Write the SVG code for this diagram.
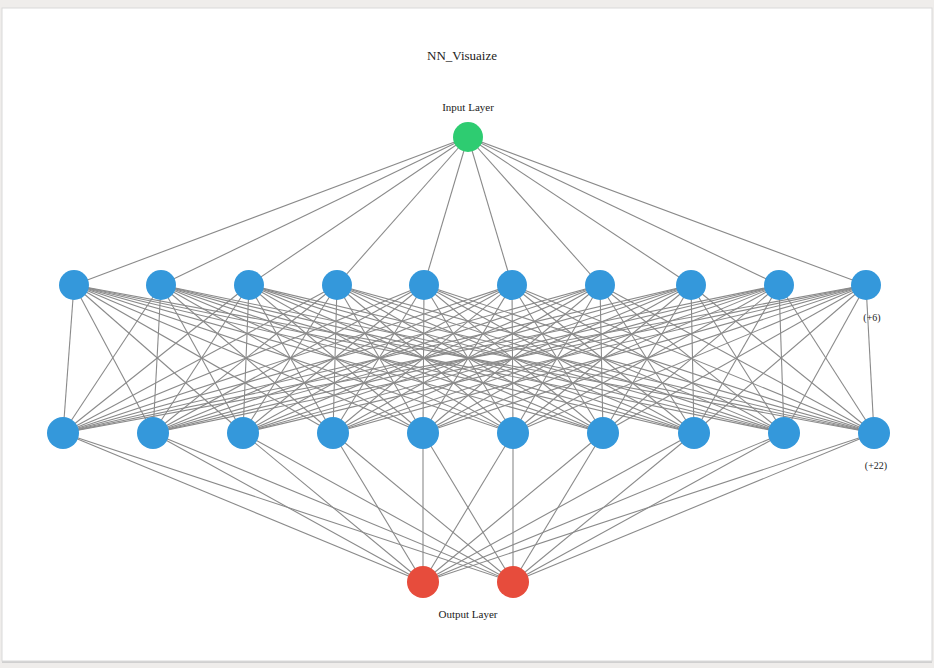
<svg xmlns="http://www.w3.org/2000/svg" width="934" height="668" viewBox="0 0 934 668">
<style>
.e{stroke:#8a8a8a;stroke-width:1.1;fill:none}
.h{fill:#3498db}
.i{fill:#2ecc71}
.o{fill:#e74c3c}
text{font-family:"Liberation Serif","Times New Roman",serif;fill:#222;text-anchor:middle}
</style>
<rect x="0" y="0" width="934" height="668" fill="#efedeb"/>
<rect x="2" y="9" width="930" height="654" fill="#d0d0d0"/>
<rect x="2" y="8" width="930" height="653" fill="#ffffff" stroke="#d9d9d9" stroke-width="1"/>
<text x="462" y="60" font-size="13">NN_Visuaize</text>
<text x="468" y="111" font-size="11">Input Layer</text>
<g id="connectors">
<line class="e" x1="468" y1="137" x2="74" y2="285"/><line class="e" x1="468" y1="137" x2="161" y2="285"/><line class="e" x1="468" y1="137" x2="249" y2="285"/><line class="e" x1="468" y1="137" x2="337" y2="285"/><line class="e" x1="468" y1="137" x2="424" y2="285"/><line class="e" x1="468" y1="137" x2="512" y2="285"/><line class="e" x1="468" y1="137" x2="600" y2="285"/><line class="e" x1="468" y1="137" x2="691" y2="285"/><line class="e" x1="468" y1="137" x2="779" y2="285"/><line class="e" x1="468" y1="137" x2="866" y2="285"/>
<line class="e" x1="74" y1="285" x2="63" y2="433"/><line class="e" x1="74" y1="285" x2="153" y2="433"/><line class="e" x1="74" y1="285" x2="243" y2="433"/><line class="e" x1="74" y1="285" x2="333" y2="433"/><line class="e" x1="74" y1="285" x2="423" y2="433"/><line class="e" x1="74" y1="285" x2="513" y2="433"/><line class="e" x1="74" y1="285" x2="603" y2="433"/><line class="e" x1="74" y1="285" x2="694" y2="433"/><line class="e" x1="74" y1="285" x2="784" y2="433"/><line class="e" x1="74" y1="285" x2="874" y2="433"/>
<line class="e" x1="161" y1="285" x2="63" y2="433"/><line class="e" x1="161" y1="285" x2="153" y2="433"/><line class="e" x1="161" y1="285" x2="243" y2="433"/><line class="e" x1="161" y1="285" x2="333" y2="433"/><line class="e" x1="161" y1="285" x2="423" y2="433"/><line class="e" x1="161" y1="285" x2="513" y2="433"/><line class="e" x1="161" y1="285" x2="603" y2="433"/><line class="e" x1="161" y1="285" x2="694" y2="433"/><line class="e" x1="161" y1="285" x2="784" y2="433"/><line class="e" x1="161" y1="285" x2="874" y2="433"/>
<line class="e" x1="249" y1="285" x2="63" y2="433"/><line class="e" x1="249" y1="285" x2="153" y2="433"/><line class="e" x1="249" y1="285" x2="243" y2="433"/><line class="e" x1="249" y1="285" x2="333" y2="433"/><line class="e" x1="249" y1="285" x2="423" y2="433"/><line class="e" x1="249" y1="285" x2="513" y2="433"/><line class="e" x1="249" y1="285" x2="603" y2="433"/><line class="e" x1="249" y1="285" x2="694" y2="433"/><line class="e" x1="249" y1="285" x2="784" y2="433"/><line class="e" x1="249" y1="285" x2="874" y2="433"/>
<line class="e" x1="337" y1="285" x2="63" y2="433"/><line class="e" x1="337" y1="285" x2="153" y2="433"/><line class="e" x1="337" y1="285" x2="243" y2="433"/><line class="e" x1="337" y1="285" x2="333" y2="433"/><line class="e" x1="337" y1="285" x2="423" y2="433"/><line class="e" x1="337" y1="285" x2="513" y2="433"/><line class="e" x1="337" y1="285" x2="603" y2="433"/><line class="e" x1="337" y1="285" x2="694" y2="433"/><line class="e" x1="337" y1="285" x2="784" y2="433"/><line class="e" x1="337" y1="285" x2="874" y2="433"/>
<line class="e" x1="424" y1="285" x2="63" y2="433"/><line class="e" x1="424" y1="285" x2="153" y2="433"/><line class="e" x1="424" y1="285" x2="243" y2="433"/><line class="e" x1="424" y1="285" x2="333" y2="433"/><line class="e" x1="424" y1="285" x2="423" y2="433"/><line class="e" x1="424" y1="285" x2="513" y2="433"/><line class="e" x1="424" y1="285" x2="603" y2="433"/><line class="e" x1="424" y1="285" x2="694" y2="433"/><line class="e" x1="424" y1="285" x2="784" y2="433"/><line class="e" x1="424" y1="285" x2="874" y2="433"/>
<line class="e" x1="512" y1="285" x2="63" y2="433"/><line class="e" x1="512" y1="285" x2="153" y2="433"/><line class="e" x1="512" y1="285" x2="243" y2="433"/><line class="e" x1="512" y1="285" x2="333" y2="433"/><line class="e" x1="512" y1="285" x2="423" y2="433"/><line class="e" x1="512" y1="285" x2="513" y2="433"/><line class="e" x1="512" y1="285" x2="603" y2="433"/><line class="e" x1="512" y1="285" x2="694" y2="433"/><line class="e" x1="512" y1="285" x2="784" y2="433"/><line class="e" x1="512" y1="285" x2="874" y2="433"/>
<line class="e" x1="600" y1="285" x2="63" y2="433"/><line class="e" x1="600" y1="285" x2="153" y2="433"/><line class="e" x1="600" y1="285" x2="243" y2="433"/><line class="e" x1="600" y1="285" x2="333" y2="433"/><line class="e" x1="600" y1="285" x2="423" y2="433"/><line class="e" x1="600" y1="285" x2="513" y2="433"/><line class="e" x1="600" y1="285" x2="603" y2="433"/><line class="e" x1="600" y1="285" x2="694" y2="433"/><line class="e" x1="600" y1="285" x2="784" y2="433"/><line class="e" x1="600" y1="285" x2="874" y2="433"/>
<line class="e" x1="691" y1="285" x2="63" y2="433"/><line class="e" x1="691" y1="285" x2="153" y2="433"/><line class="e" x1="691" y1="285" x2="243" y2="433"/><line class="e" x1="691" y1="285" x2="333" y2="433"/><line class="e" x1="691" y1="285" x2="423" y2="433"/><line class="e" x1="691" y1="285" x2="513" y2="433"/><line class="e" x1="691" y1="285" x2="603" y2="433"/><line class="e" x1="691" y1="285" x2="694" y2="433"/><line class="e" x1="691" y1="285" x2="784" y2="433"/><line class="e" x1="691" y1="285" x2="874" y2="433"/>
<line class="e" x1="779" y1="285" x2="63" y2="433"/><line class="e" x1="779" y1="285" x2="153" y2="433"/><line class="e" x1="779" y1="285" x2="243" y2="433"/><line class="e" x1="779" y1="285" x2="333" y2="433"/><line class="e" x1="779" y1="285" x2="423" y2="433"/><line class="e" x1="779" y1="285" x2="513" y2="433"/><line class="e" x1="779" y1="285" x2="603" y2="433"/><line class="e" x1="779" y1="285" x2="694" y2="433"/><line class="e" x1="779" y1="285" x2="784" y2="433"/><line class="e" x1="779" y1="285" x2="874" y2="433"/>
<line class="e" x1="866" y1="285" x2="63" y2="433"/><line class="e" x1="866" y1="285" x2="153" y2="433"/><line class="e" x1="866" y1="285" x2="243" y2="433"/><line class="e" x1="866" y1="285" x2="333" y2="433"/><line class="e" x1="866" y1="285" x2="423" y2="433"/><line class="e" x1="866" y1="285" x2="513" y2="433"/><line class="e" x1="866" y1="285" x2="603" y2="433"/><line class="e" x1="866" y1="285" x2="694" y2="433"/><line class="e" x1="866" y1="285" x2="784" y2="433"/><line class="e" x1="866" y1="285" x2="874" y2="433"/>
<line class="e" x1="63" y1="433" x2="423" y2="582"/><line class="e" x1="63" y1="433" x2="513" y2="582"/><line class="e" x1="153" y1="433" x2="423" y2="582"/><line class="e" x1="153" y1="433" x2="513" y2="582"/><line class="e" x1="243" y1="433" x2="423" y2="582"/><line class="e" x1="243" y1="433" x2="513" y2="582"/><line class="e" x1="333" y1="433" x2="423" y2="582"/><line class="e" x1="333" y1="433" x2="513" y2="582"/><line class="e" x1="423" y1="433" x2="423" y2="582"/><line class="e" x1="423" y1="433" x2="513" y2="582"/><line class="e" x1="513" y1="433" x2="423" y2="582"/><line class="e" x1="513" y1="433" x2="513" y2="582"/><line class="e" x1="603" y1="433" x2="423" y2="582"/><line class="e" x1="603" y1="433" x2="513" y2="582"/><line class="e" x1="694" y1="433" x2="423" y2="582"/><line class="e" x1="694" y1="433" x2="513" y2="582"/><line class="e" x1="784" y1="433" x2="423" y2="582"/><line class="e" x1="784" y1="433" x2="513" y2="582"/><line class="e" x1="874" y1="433" x2="423" y2="582"/><line class="e" x1="874" y1="433" x2="513" y2="582"/>
</g>
<g id="input"><circle class="i" cx="468" cy="137" r="15"/></g>
<g id="h1_1"><circle class="h" cx="74" cy="285" r="15"/></g>
<g id="h1_2"><circle class="h" cx="161" cy="285" r="15"/></g>
<g id="h1_3"><circle class="h" cx="249" cy="285" r="15"/></g>
<g id="h1_4"><circle class="h" cx="337" cy="285" r="15"/></g>
<g id="h1_5"><circle class="h" cx="424" cy="285" r="15"/></g>
<g id="h1_6"><circle class="h" cx="512" cy="285" r="15"/></g>
<g id="h1_7"><circle class="h" cx="600" cy="285" r="15"/></g>
<g id="h1_8"><circle class="h" cx="691" cy="285" r="15"/></g>
<g id="h1_9"><circle class="h" cx="779" cy="285" r="15"/></g>
<g id="h1_10"><circle class="h" cx="866" cy="285" r="15"/><text x="872" y="321" font-size="10">(+6)</text></g>
<g id="h2_1"><circle class="h" cx="63" cy="433" r="16"/></g>
<g id="h2_2"><circle class="h" cx="153" cy="433" r="16"/></g>
<g id="h2_3"><circle class="h" cx="243" cy="433" r="16"/></g>
<g id="h2_4"><circle class="h" cx="333" cy="433" r="16"/></g>
<g id="h2_5"><circle class="h" cx="423" cy="433" r="16"/></g>
<g id="h2_6"><circle class="h" cx="513" cy="433" r="16"/></g>
<g id="h2_7"><circle class="h" cx="603" cy="433" r="16"/></g>
<g id="h2_8"><circle class="h" cx="694" cy="433" r="16"/></g>
<g id="h2_9"><circle class="h" cx="784" cy="433" r="16"/></g>
<g id="h2_10"><circle class="h" cx="874" cy="433" r="16"/><text x="876" y="469" font-size="10">(+22)</text></g>
<g id="out_1"><circle class="o" cx="423" cy="582" r="16"/></g>
<g id="out_2"><circle class="o" cx="513" cy="582" r="16"/></g>
<text x="468" y="618" font-size="11">Output Layer</text>
</svg>
